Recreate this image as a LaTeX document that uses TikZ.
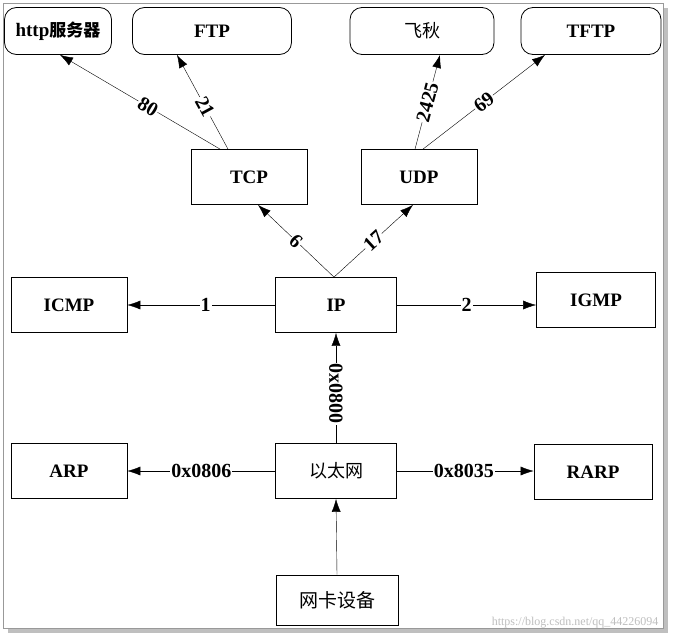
\documentclass[tikz,border=0pt]{standalone}
\usepackage{fontspec}
\setmainfont{Liberation Serif}
\newfontfamily\cjk{Noto Sans CJK SC}
\usetikzlibrary{arrows.meta}
\tikzset{
  box/.style={draw,thick,minimum width=116pt,minimum height=55pt,font=\fontsize{19}{20}\selectfont\bfseries},
  rbox/.style={box,rounded corners=12pt,minimum height=47pt},
  link/.style={draw,thin,-{Latex[length=13pt,width=9pt]}},
  num/.style={fill=white,inner sep=1pt,sloped,font=\fontsize{20}{20}\selectfont\bfseries}
}
\begin{document}
\begin{tikzpicture}[x=1pt,y=-1pt]
    \useasboundingbox (0,0) rectangle (676,643);
    \fill[black!25] (8,8) rectangle (668,633);
    \filldraw[draw=black!40,fill=white] (3,3) rectangle (663,628);

    \node[rbox,minimum width=107pt] (http) at (58,31) {http{\cjk\bfseries\fontsize{17}{18}\selectfont 服务器}};
    \node[rbox,minimum width=159pt] (ftp) at (212,31) {FTP};
    \node[rbox,minimum width=144pt,font=\fontsize{18}{20}\selectfont\cjk] (feiq) at (422,31) {飞秋};
    \node[rbox,minimum width=140pt] (tftp) at (591,31) {TFTP};

    \node[box] (tcp) at (249,177) {TCP};
    \node[box] (udp) at (419,177) {UDP};

    \node[box] (icmp) at (69,305) {ICMP};
    \node[box,minimum width=121pt] (ip) at (336,305) {IP};
    \node[box,minimum width=119pt] (igmp) at (596,300) {IGMP};

    \node[box] (arp) at (69,471) {ARP};
    \node[box,minimum width=121pt,font=\fontsize{18}{20}\selectfont\cjk] (eth) at (336,471) {以太网};
    \node[box,minimum width=118pt] (rarp) at (593,472) {RARP};

    \node[box,minimum width=122pt,minimum height=50pt,font=\fontsize{19}{20}\selectfont\cjk] (nic) at (337,600) {网卡设备};

    % upper layer
    \draw[link] ([xshift=-29pt]tcp.north) -- node[num,pos=0.45]{80} ([xshift=2pt]http.south);
    \draw[link] ([xshift=-21pt]tcp.north) -- node[num,pos=0.45]{21} ([xshift=-35pt]ftp.south);
    \draw[link] ([xshift=-4pt]udp.north) -- node[num,pos=0.5]{2425} ([xshift=18pt]feiq.south);
    \draw[link] ([xshift=4pt]udp.north) -- node[num,pos=0.5]{69} ([xshift=-46pt]tftp.south);

    % ip
    \draw[link] ([xshift=-2pt]ip.north) -- node[num]{6} ([xshift=9pt]tcp.south);
    \draw[link] ([xshift=-2pt]ip.north) -- node[num]{17} ([xshift=-6pt]udp.south);
    \draw[link] (ip.west) -- node[num,pos=0.47]{1} (icmp.east);
    \draw[link] (ip.east) -- node[num,pos=0.5]{2} (ip.east -| igmp.west);

    % ethernet
    \draw[link] (eth.north) -- node[num,pos=0.45,rotate=180]{0x0800} (ip.south);
    \draw[link] (eth.west) -- node[num,pos=0.5]{0x0806} (arp.east);
    \draw[link] (eth.east) -- node[num,pos=0.49]{0x8035} (eth.east -| rarp.west);
    \draw[link] (nic.north) -- (eth.south);

    \node[text=black!25,font=\fontsize{12}{12}\selectfont,anchor=south east] (wm) at (662,632) {https://blog.csdn.net/qq\_44226094};
\end{tikzpicture}
\end{document}
